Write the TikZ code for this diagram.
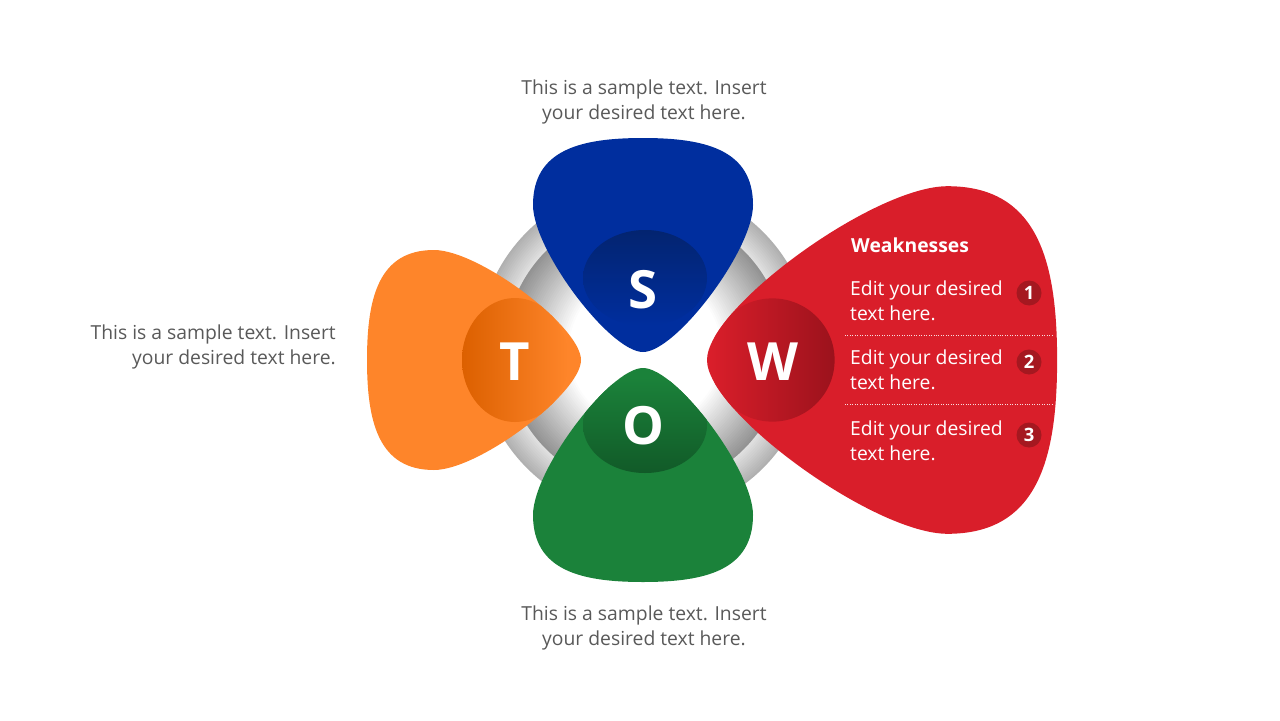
\documentclass[tikz,border=0pt]{standalone}
\usepackage{fontspec}
\setmainfont{Open Sans}
\usetikzlibrary{positioning}

\definecolor{swotBlue}{RGB}{0,46,158}
\definecolor{swotBlueDark}{RGB}{3,36,112}
\definecolor{swotOrange}{RGB}{254,133,42}
\definecolor{swotOrangeDark}{RGB}{220,96,0}
\definecolor{swotGreen}{RGB}{27,130,58}
\definecolor{swotGreenDark}{RGB}{17,90,40}
\definecolor{swotRed}{RGB}{217,30,42}
\definecolor{swotRedDark}{RGB}{155,18,28}
\definecolor{badgeRed}{RGB}{165,24,32}
\definecolor{captionGray}{RGB}{89,89,89}

% one petal, tip at the origin, opening upwards
\newcommand{\petalPath}{
    (0,0) .. controls (-33,0) and (-110,-102) .. (-110,-147)
    .. controls (-110,-202) and (-63,-214) .. (0,-214)
    .. controls (63,-214) and (110,-202) .. (110,-147)
    .. controls (110,-102) and (33,0) .. (0,0) -- cycle
}

\begin{document}
\begin{tikzpicture}[
        x=0.02cm, y=-0.02cm,
        letterText/.style={
            text=white,
            font=\fontsize{30}{30}\selectfont\bfseries
        },
        captionText/.style={
            text=captionGray,
            font=\fontsize{11}{14.2}\selectfont
        },
        itemText/.style={
            text=white,
            anchor=west,
            align=left,
            font=\fontsize{11}{14.2}\selectfont
        },
        badge/.style={
            circle,
            fill=badgeRed,
            text=white,
            inner sep=0pt,
            minimum size=0.5cm,
            font=\fontsize{10.5}{10.5}\selectfont\bfseries
        }
    ]

        \useasboundingbox (0,0) rectangle (1280,720);

        % Grey ring behind the petals
        \foreach \i in {0,...,13}
        {
            \pgfmathsetmacro{\bandShade}{62-\i*3}
            \fill[gray!\bandShade] (645,350) circle[radius=167-\i*2];
        }
        \foreach \i in {0,...,32}
        {
            \pgfmathsetmacro{\discShade}{85-\i*85/32}
            \fill[gray!\discShade] (645,350) circle[radius=140-\i*2];
        }

        % Strengths petal
        \begin{scope}[shift={(643,352)}]
            \fill[swotBlue] \petalPath;
            \clip \petalPath;
            \shade[top color=swotBlueDark, bottom color=swotBlue]
                (2,-74) ellipse[x radius=62, y radius=48];
        \end{scope}

        % Opportunities petal
        \begin{scope}[shift={(643,368)}, rotate=180]
            \fill[swotGreen] \petalPath;
            \clip \petalPath;
            \shade[top color=swotGreen, bottom color=swotGreenDark]
                (-2,-57) ellipse[x radius=62, y radius=48];
        \end{scope}

        % Threats petal
        \begin{scope}[shift={(581,360)}, rotate=90]
            \fill[swotOrange] \petalPath;
            \clip \petalPath;
            \shade[left color=swotOrangeDark, right color=swotOrange]
                (0,-66) ellipse[x radius=62, y radius=53];
        \end{scope}

        % Weaknesses petal
        \begin{scope}[shift={(707,360)}, rotate=-90, xscale=1.58, yscale=1.636]
            \fill[swotRed] \petalPath;
            \clip \petalPath;
            \shade[left color=swotRed, right color=swotRedDark]
                (0,-40) ellipse[x radius=39, y radius=38];
        \end{scope}

        % Letters
        \node[letterText] (sLetter) at (643,290) {S};
        \node[letterText] (oLetter) at (643,426) {O};
        \node[letterText] (tLetter) at (515,362) {T};
        \node[letterText] (wLetter) at (773,362) {W};

        % Captions
        \node[captionText, align=center] (sCaption) at (644,102)
            {This is a sample text. Insert\\your desired text here.};
        \node[captionText, align=center] (oCaption) at (644,628)
            {This is a sample text. Insert\\your desired text here.};
        \node[captionText, align=right, anchor=east] (tCaption) at (342,347)
            {This is a sample text. Insert\\your desired text here.};

        % Weaknesses list
        \node[text=white, anchor=west, font=\fontsize{11}{14}\selectfont\bfseries]
            (wTitle) at (845,245) {Weaknesses};

        \foreach \num/\ypos/\ybadge in {1/301/293, 2/370/362, 3/441/435}
        {
            \node[itemText] (item\num) at (844,\ypos)
                {Edit your desired\\text here.};
            \node[badge] (badge\num) at (1029,\ybadge) {\num};
        }

        \foreach \yline in {335,404}
        {
            \draw[white!85!swotRed, densely dotted, line width=0.4pt]
                (845,\yline) -- (1053,\yline);
        }

    \end{tikzpicture}
\end{document}
